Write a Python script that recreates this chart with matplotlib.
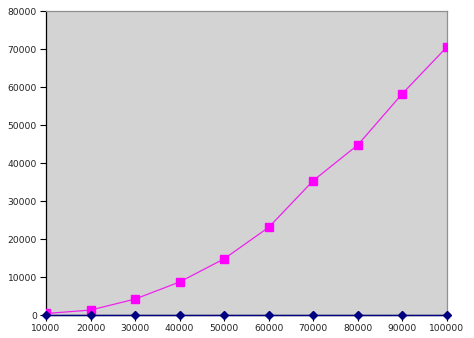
import matplotlib
matplotlib.use("Agg")
import matplotlib.pyplot as plt

x = [10000, 20000, 30000, 40000, 50000, 60000, 70000, 80000, 90000, 100000]
series_a = [0, 0, 0, 0, 0, 0, 0, 0, 0, 0]
series_b = [400, 1300, 4200, 8700, 14800, 23100, 35400, 44800, 58300, 70600]
yticks = [0, 10000, 20000, 30000, 40000, 50000, 60000, 70000, 80000]

fig = plt.figure(figsize=(4.74, 3.38), dpi=100)
ax = fig.add_axes([0.097, 0.068, 0.846, 0.899])
ax.set_facecolor("#d3d3d3")
ax.plot(x, series_b, color="#ee22ee", lw=0.9, marker="s", ms=5.5,
        mfc="#ff00ff", mec="#ff00ff", zorder=3)
ax.plot(x, series_a, color="#000080", lw=1.0, marker="D", ms=3.8,
        mfc="#000080", mec="#000080", zorder=4, clip_on=False)
ax.set_xlim(10000, 100000)
ax.set_ylim(0, 80000)
ax.set_xticks(x)
ax.set_yticks(yticks)
ax.tick_params(labelsize=6.6, length=4, width=0.8, pad=2.5, colors="black",
               labelcolor="#222222")
for s in ["left", "bottom"]:
    ax.spines[s].set_color("black")
    ax.spines[s].set_linewidth(0.9)
for s in ["top", "right"]:
    ax.spines[s].set_color("#909090")
    ax.spines[s].set_linewidth(0.9)
fig.savefig("out.png", dpi=100, facecolor="white")
